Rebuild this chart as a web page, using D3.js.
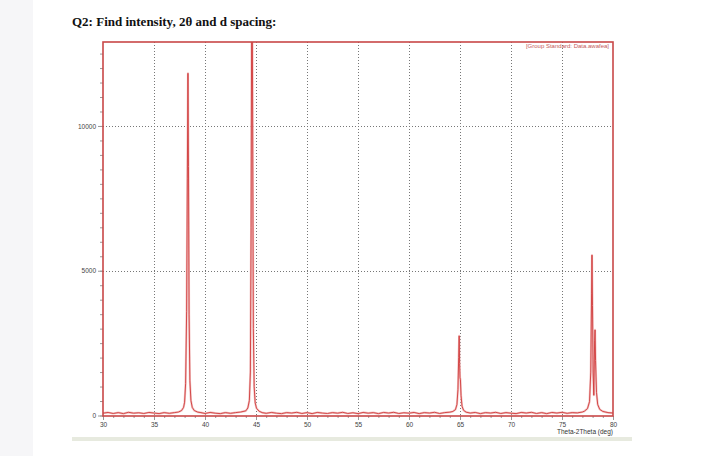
<!DOCTYPE html>
<html lang="en">
<head>
  <meta charset="UTF-8">
  <title>XRD pattern</title>
  <script src="https://cdn.jsdelivr.net/npm/d3@7/dist/d3.min.js"></script>
  <style>
    html, body { margin: 0; background: #fff; }
    svg { display: block; }
  </style>
</head>
<body>
  <script>
    // canvas
    const width = 720
    const height = 456

    // source data: 2theta (deg) and intensity (counts)
    const twoTheta = [
      30.0, 30.5, 31.0, 31.5, 32.0, 32.5, 33.0, 33.5, 34.0, 34.5,
      35.0, 35.5, 36.0, 36.5, 37.0, 37.4, 37.7, 37.9, 38.0, 38.1,
      38.2, 38.27, 38.33, 38.38, 38.44, 38.52, 38.62, 38.75, 38.95, 39.3,
      39.6, 40.0, 40.5, 41.0, 41.5, 42.0, 42.5, 43.0, 43.5, 44.0,
      44.2, 44.35, 44.45, 44.52, 44.58, 44.63, 44.68, 44.74, 44.82, 44.92,
      45.05, 45.3, 45.6, 46.0, 46.5, 47.0, 47.5, 48.0, 48.5, 49.0,
      49.5, 50.0, 50.5, 51.0, 51.5, 52.0, 52.5, 53.0, 53.5, 54.0,
      54.5, 55.0, 55.5, 56.0, 56.5, 57.0, 57.5, 58.0, 58.5, 59.0,
      59.5, 60.0, 60.5, 61.0, 61.5, 62.0, 62.5, 63.0, 63.5, 64.0,
      64.3, 64.55, 64.7, 64.8, 64.87, 64.92, 64.96, 65.0, 65.04, 65.1,
      65.2, 65.35, 65.6, 66.0, 66.5, 67.0, 67.5, 68.0, 68.5, 69.0,
      69.5, 70.0, 70.5, 71.0, 71.5, 72.0, 72.5, 73.0, 73.5, 74.0,
      74.5, 75.0, 75.5, 76.0, 76.5, 77.0, 77.2, 77.5, 77.7, 77.82,
      77.9, 77.94, 77.99, 78.05, 78.12, 78.2, 78.24, 78.29, 78.38, 78.5,
      78.7, 79.0, 79.5, 80.0
    ]
    const intensity = [
      80, 105, 70, 100, 65, 110, 80, 95, 70, 105,
      85, 65, 100, 75, 100, 120, 170, 280, 460, 1100,
      3600, 8200, 11820, 8600, 3500, 1200, 520, 280, 170, 115,
      100, 70, 105, 80, 65, 100, 75, 100, 120, 160,
      260, 520, 1500, 6500, 14500, 15000, 9000, 3000, 1000, 440,
      250, 150, 100, 75, 105, 80, 65, 100, 85, 110,
      70, 100, 65, 105, 85, 70, 100, 80, 110, 70,
      95, 65, 105, 80, 100, 65, 105, 85, 110, 70,
      95, 80, 105, 65, 100, 85, 110, 70, 100, 115,
      140, 200, 380, 900, 2000, 2750, 1800, 1300, 1250, 700,
      320, 180, 115, 85, 105, 65, 100, 85, 110, 70,
      100, 80, 65, 105, 85, 110, 70, 100, 65, 105,
      85, 110, 75, 100, 90, 120, 150, 240, 480, 1500,
      4200, 5540, 3800, 1500, 700, 2600, 2955, 1900, 800, 380,
      210, 140, 100, 85
    ]
    const data = twoTheta.map((t, i) => ({ t, v: intensity[i] }))

    // ticks
    const xMajor = [30, 35, 40, 45, 50, 55, 60, 65, 70, 75, 80]
    const xMinor = d3.range(30, 81, 1)
    const yMajor = [0, 5000, 10000]
    const yMinor = d3.range(0, 13000, 500)

    const titleText = 'Q2: Find intensity, 2\u03b8 and d spacing:'
    const legendText = '[Group Standard: Data.awafea]'
    const xLabel = 'Theta-2Theta (deg)'

    // plot area
    const plot = { left: 103, right: 613, top: 42, bottom: 416 }

    const svg = d3.select('body').append('svg')
      .attr('width', width)
      .attr('height', height)

    // faint grey band on the left
    svg.append('rect')
      .attr('x', 0).attr('y', 0)
      .attr('width', 33).attr('height', height)
      .attr('fill', '#f6f6f8')

    // title
    svg.append('text')
      .attr('x', 72).attr('y', 26)
      .attr('font-family', '"Liberation Serif", "Times New Roman", serif')
      .attr('font-weight', 'bold')
      .attr('font-size', 13)
      .attr('fill', '#111')
      .text(titleText)

    // scales
    const xScale = d3.scaleLinear().domain([30, 80]).range([plot.left, plot.right])
    const yScale = d3.scaleLinear().domain([0, 12900]).range([415.5, plot.top])

    // grid lines
    const grid = svg.append('g')
      .attr('stroke', '#777')
      .attr('stroke-width', 1)
      .attr('stroke-dasharray', '1,2')
    grid.selectAll('.vgrid')
      .data(xMajor.slice(1, -1))
      .enter().append('line')
      .attr('x1', d => Math.round(xScale(d)) + 0.5)
      .attr('x2', d => Math.round(xScale(d)) + 0.5)
      .attr('y1', plot.top)
      .attr('y2', plot.bottom)
    grid.selectAll('.hgrid')
      .data(yMajor.slice(1))
      .enter().append('line')
      .attr('x1', plot.left)
      .attr('x2', plot.right)
      .attr('y1', d => Math.round(yScale(d)) + 0.5)
      .attr('y2', d => Math.round(yScale(d)) + 0.5)

    // y axis
    const axisFont = '"Liberation Sans", Arial, sans-serif'
    const gyMinor = svg.append('g')
      .attr('transform', `translate(${plot.left}, 0)`)
      .call(d3.axisLeft(yScale).tickValues(yMinor).tickSize(3).tickFormat(''))
    const gy = svg.append('g')
      .attr('transform', `translate(${plot.left}, 0)`)
      .call(d3.axisLeft(yScale).tickValues(yMajor).tickSize(5).tickPadding(2).tickFormat(d3.format('d')))
    ;[gyMinor, gy].forEach(g => {
      g.select('.domain').remove()
      g.selectAll('line').attr('stroke', '#999')
    })
    gy.selectAll('text')
      .attr('font-family', axisFont)
      .attr('font-size', 6.5)
      .attr('fill', '#444')

    // x axis
    const gxMinor = svg.append('g')
      .attr('transform', `translate(0, ${plot.bottom})`)
      .call(d3.axisBottom(xScale).tickValues(xMinor).tickSize(2).tickFormat(''))
    const gx = svg.append('g')
      .attr('transform', `translate(0, ${plot.bottom})`)
      .call(d3.axisBottom(xScale).tickValues(xMajor).tickSize(4).tickPadding(2).tickFormat(d3.format('d')))
    ;[gxMinor, gx].forEach(g => {
      g.select('.domain').remove()
      g.selectAll('line').attr('stroke', '#999')
    })
    gx.selectAll('text')
      .attr('font-family', axisFont)
      .attr('font-size', 6.5)
      .attr('fill', '#444')

    // x axis label
    svg.append('text')
      .attr('x', plot.right)
      .attr('y', 434)
      .attr('text-anchor', 'end')
      .attr('font-family', axisFont)
      .attr('font-size', 6.5)
      .attr('fill', '#333')
      .text(xLabel)

    // clip for the spectrum
    svg.append('clipPath').attr('id', 'clip')
      .append('rect')
      .attr('x', plot.left).attr('y', plot.top)
      .attr('width', plot.right - plot.left)
      .attr('height', plot.bottom - plot.top)

    const line = d3.line()
      .x(d => xScale(d.t))
      .y(d => yScale(d.v))

    // pink halo then red trace
    svg.append('path')
      .datum(data)
      .attr('clip-path', 'url(#clip)')
      .attr('fill', 'none')
      .attr('stroke', '#f2c4c4')
      .attr('stroke-width', 2.2)
      .attr('stroke-linejoin', 'round')
      .attr('d', line)
    svg.append('path')
      .datum(data)
      .attr('clip-path', 'url(#clip)')
      .attr('fill', 'none')
      .attr('stroke', '#d03a3a')
      .attr('stroke-width', 0.9)
      .attr('stroke-linejoin', 'round')
      .attr('d', line)

    // plot frame
    svg.append('rect')
      .attr('x', plot.left).attr('y', plot.top)
      .attr('width', plot.right - plot.left)
      .attr('height', plot.bottom - plot.top)
      .attr('fill', 'none')
      .attr('stroke', '#c94848')
      .attr('stroke-width', 1.6)

    // legend tag
    svg.append('text')
      .attr('x', plot.right - 4)
      .attr('y', 48)
      .attr('text-anchor', 'end')
      .attr('font-family', axisFont)
      .attr('font-size', 6)
      .attr('fill', '#c45a5a')
      .text(legendText)

    // bottom strip of the page
    svg.append('rect')
      .attr('x', 72).attr('y', 437)
      .attr('width', 560).attr('height', 4)
      .attr('fill', '#e7eadf')
  </script>
</body>
</html>
